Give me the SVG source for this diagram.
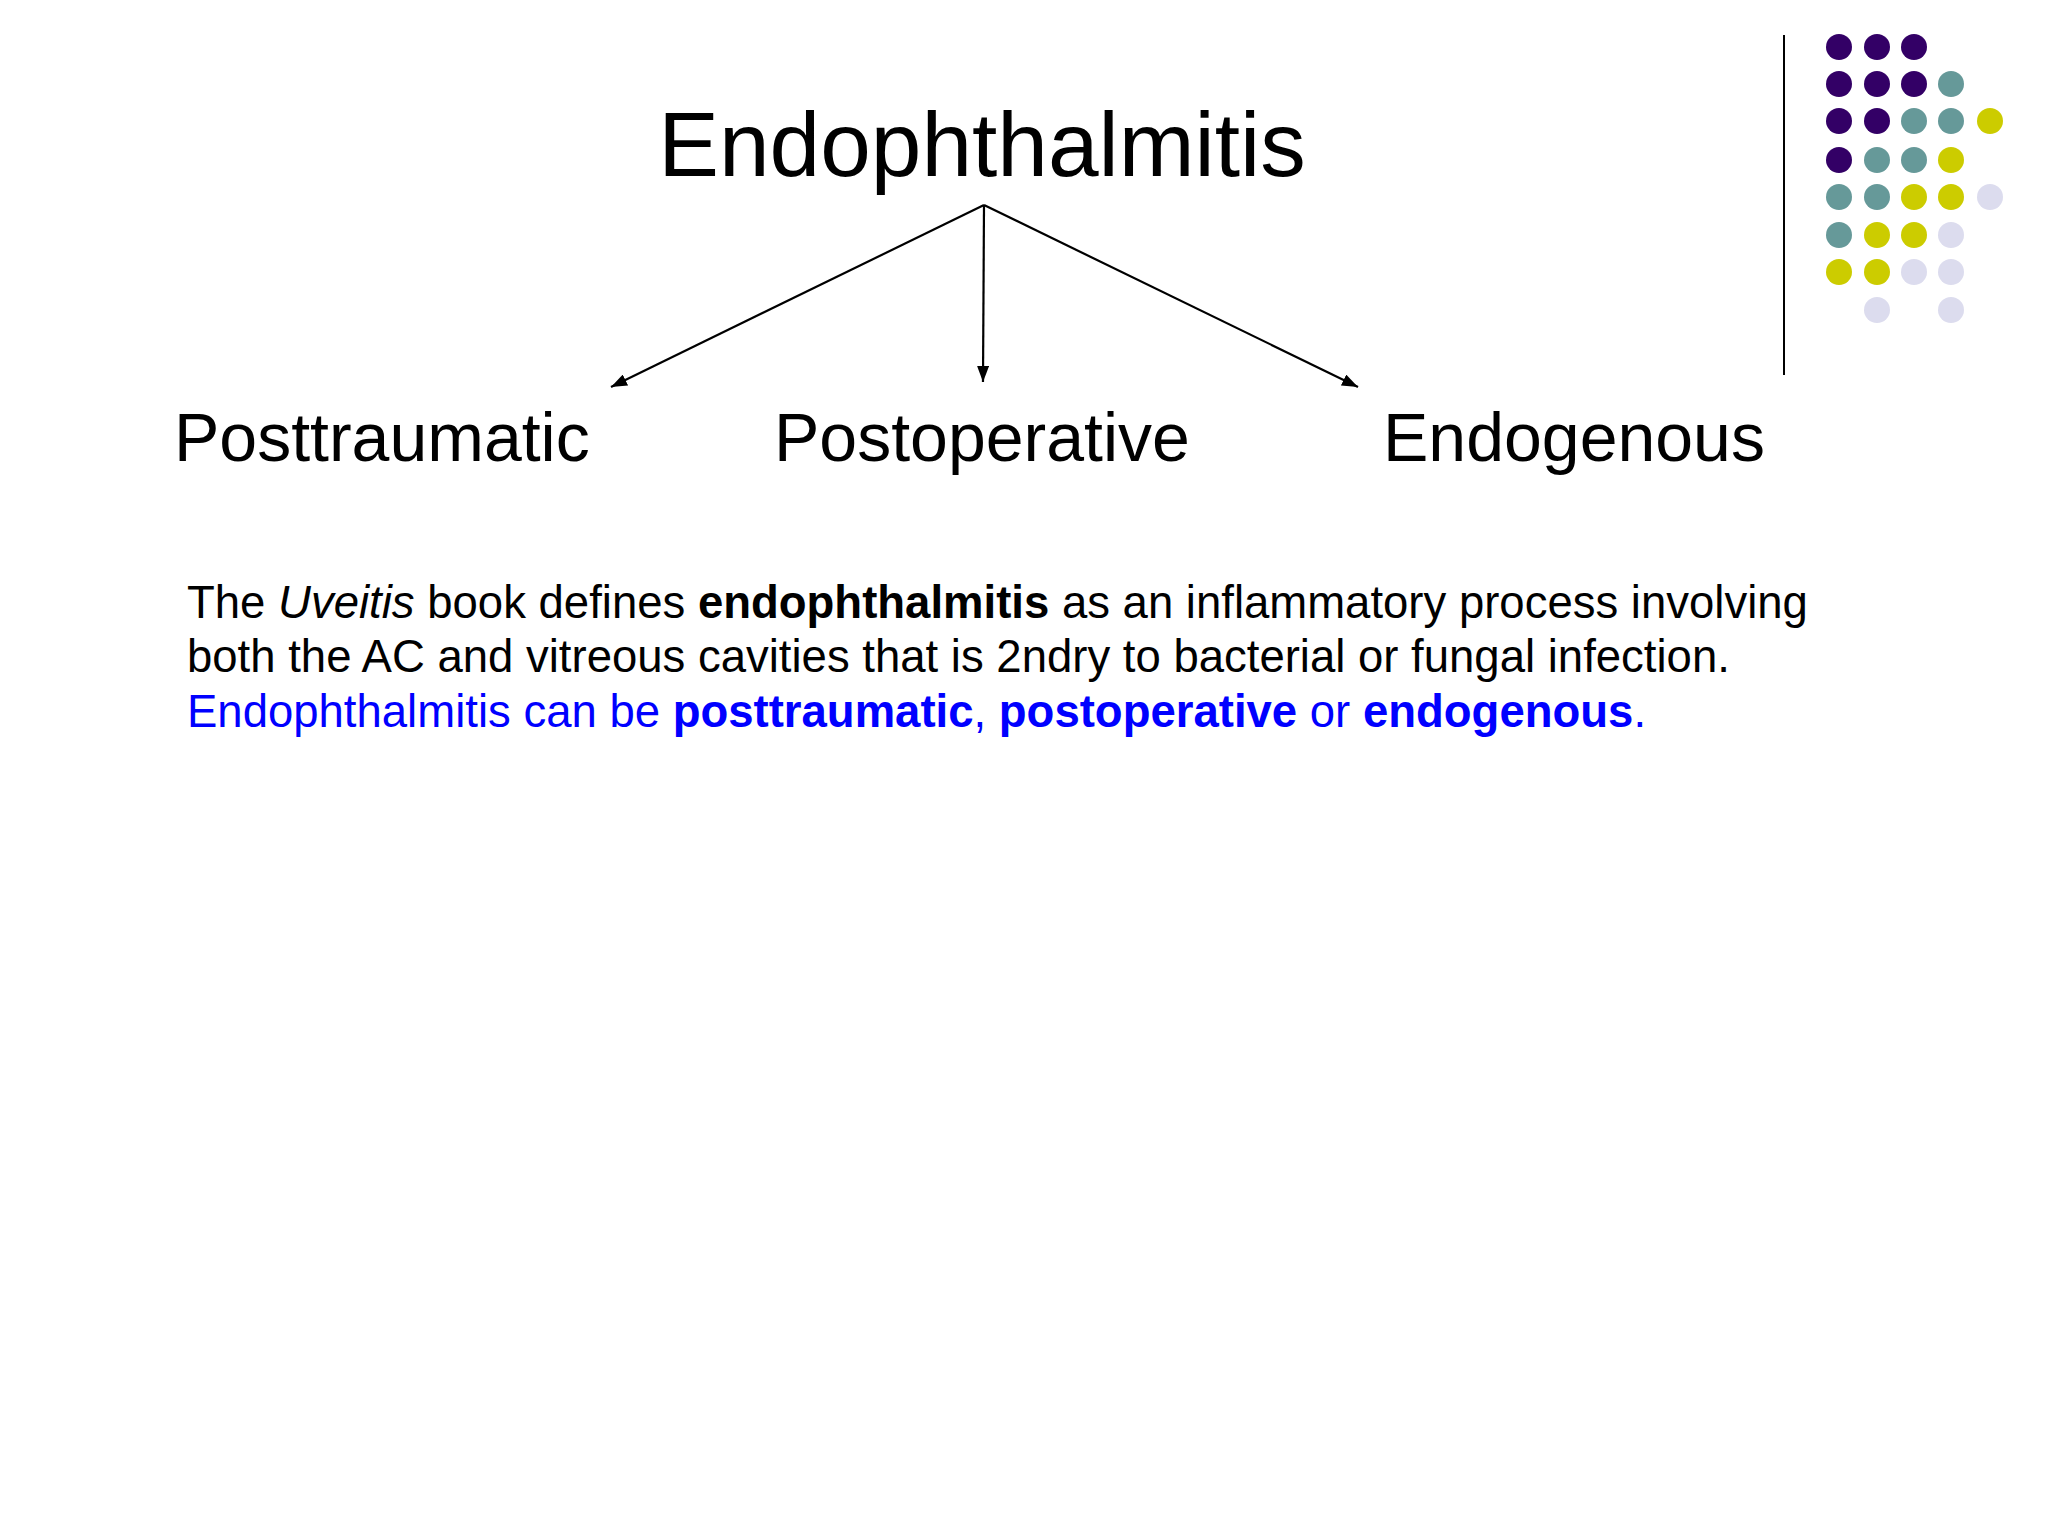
<svg xmlns="http://www.w3.org/2000/svg" width="2048" height="1536" viewBox="0 0 2048 1536">
<style>
text{font-family:"Liberation Sans",Arial,sans-serif;fill:#000}
.title{font-size:91px}
.sub{font-size:68px}
.body{font-size:45.5px}
.blue{fill:#0000FF}
.b{font-weight:bold}
.conn{stroke:#000;stroke-width:2.2;fill:none}
.p{fill:#330066}.t{fill:#669999}.y{fill:#CCCC00}.l{fill:#DCDCEE}
</style>
<defs>
<marker id="ah" viewBox="0 0 10 10" refX="10" refY="5" markerWidth="16" markerHeight="12" markerUnits="userSpaceOnUse" orient="auto" preserveAspectRatio="none">
<path d="M0,0 L10,5 L0,10 z" fill="#000"/>
</marker>
</defs>
<rect width="2048" height="1536" fill="#fff"/>
<g id="decor">
<line x1="1784" y1="35" x2="1784" y2="375" stroke="#000" stroke-width="2"/>
<g id="dots">
<circle class="p" cx="1839" cy="47" r="13"/><circle class="p" cx="1877" cy="47" r="13"/><circle class="p" cx="1914" cy="47" r="13"/>
<circle class="p" cx="1839" cy="84" r="13"/><circle class="p" cx="1877" cy="84" r="13"/><circle class="p" cx="1914" cy="84" r="13"/><circle class="t" cx="1951" cy="84" r="13"/>
<circle class="p" cx="1839" cy="121" r="13"/><circle class="p" cx="1877" cy="121" r="13"/><circle class="t" cx="1914" cy="121" r="13"/><circle class="t" cx="1951" cy="121" r="13"/><circle class="y" cx="1990" cy="121" r="13"/>
<circle class="p" cx="1839" cy="160" r="13"/><circle class="t" cx="1877" cy="160" r="13"/><circle class="t" cx="1914" cy="160" r="13"/><circle class="y" cx="1951" cy="160" r="13"/>
<circle class="t" cx="1839" cy="197" r="13"/><circle class="t" cx="1877" cy="197" r="13"/><circle class="y" cx="1914" cy="197" r="13"/><circle class="y" cx="1951" cy="197" r="13"/><circle class="l" cx="1990" cy="197" r="13"/>
<circle class="t" cx="1839" cy="235" r="13"/><circle class="y" cx="1877" cy="235" r="13"/><circle class="y" cx="1914" cy="235" r="13"/><circle class="l" cx="1951" cy="235" r="13"/>
<circle class="y" cx="1839" cy="272" r="13"/><circle class="y" cx="1877" cy="272" r="13"/><circle class="l" cx="1914" cy="272" r="13"/><circle class="l" cx="1951" cy="272" r="13"/>
<circle class="l" cx="1877" cy="310" r="13"/><circle class="l" cx="1951" cy="310" r="13"/>
</g>
</g>
<g id="node-root"><text class="title" x="982" y="176" text-anchor="middle">Endophthalmitis</text></g>
<g id="node-posttraumatic"><text class="sub" x="174" y="461">Posttraumatic</text></g>
<g id="node-postoperative"><text class="sub" x="774" y="461">Postoperative</text></g>
<g id="node-endogenous"><text class="sub" x="1383" y="461">Endogenous</text></g>
<g id="connectors">
<line class="conn" x1="984" y1="205" x2="611" y2="387" marker-end="url(#ah)"/>
<line class="conn" x1="984" y1="205" x2="983" y2="382" marker-end="url(#ah)"/>
<line class="conn" x1="984" y1="205" x2="1358" y2="387" marker-end="url(#ah)"/>
</g>
<g id="paragraph">
<text class="body" x="187" y="618">The <tspan font-style="italic">Uveitis</tspan> book defines <tspan class="b">endophthalmitis</tspan> as an inflammatory process involving</text>
<text class="body" x="187" y="672">both the AC and vitreous cavities that is 2ndry to bacterial or fungal infection.</text>
<text class="body blue" x="187" y="727">Endophthalmitis can be <tspan class="b">posttraumatic</tspan>, <tspan class="b">postoperative</tspan> or <tspan class="b">endogenous</tspan>.</text>
</g>
</svg>
